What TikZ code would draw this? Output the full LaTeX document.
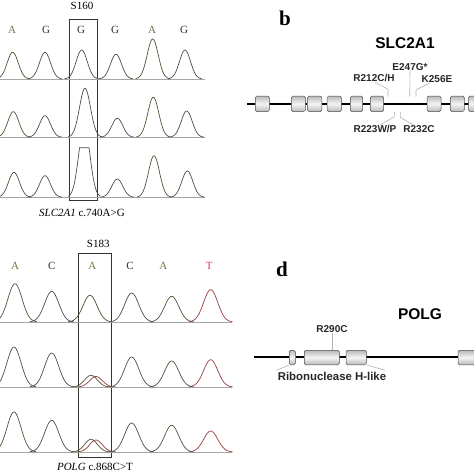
\documentclass[tikz,border=0pt]{standalone}
\usepackage{fontspec}
\setmainfont{Liberation Serif}
\setsansfont{Liberation Sans}
\usetikzlibrary{positioning}

\definecolor{baseA}{RGB}{115,118,60}
\definecolor{baseT}{RGB}{205,60,80}
\definecolor{baseGC}{RGB}{45,45,45}
\definecolor{trA}{RGB}{70,88,52}
\definecolor{trT}{RGB}{150,62,62}

% one chromatogram peak: [style]{centre}{baseline}{top}{width}
\newcommand{\trpeak}[5][]{%
  \draw[peakline,#1] plot[domain=-2.2*#5:2.2*#5, samples=41]
    ({#2+\x},{#3-(#3-#4)*exp(0-(\x/#5)*(\x/#5))});}

\begin{document}
\begin{tikzpicture}[x=1pt, y=-1pt,
    ntlet/.style={font=\fontsize{11}{13}\selectfont, text=baseGC, inner sep=0pt},
    serif/.style={font=\fontsize{11}{13}\selectfont, inner sep=0pt},
    panlab/.style={font=\fontsize{21}{24}\selectfont\bfseries, inner sep=0pt},
    gtitle/.style={font=\sffamily\bfseries\fontsize{15.5}{18}\selectfont, inner sep=0pt},
    mut/.style={font=\sffamily\bfseries\fontsize{10}{12}\selectfont, text=black!85, inner sep=0pt},
    peakline/.style={draw=baseGC!85, line width=0.7pt},
    axisline/.style={draw=gray!70, line width=0.6pt},
    frame/.style={draw=black!80, line width=0.8pt},
    gene/.style={draw=black, line width=1.5pt},
    exon/.style={draw=black!70, line width=0.5pt, rounded corners=1.5pt, top color=gray!55, bottom color=gray!55, middle color=gray!8, minimum height=15.5pt, inner sep=0pt},
    leader/.style={draw=gray!60, line width=0.6pt}
]
    \useasboundingbox (0,0) rectangle (474,474);

    % panel a: SLC2A1 chromatograms
    \node[ntlet, text=baseA] (sa1) at (12,30) {A};
    \node[ntlet] (sa2) at (46,30) {G};
    \node[ntlet] (sa3) at (81,30) {G};
    \node[ntlet] (sa4) at (115,30) {G};
    \node[ntlet, text=baseA] (sa5) at (152,30) {A};
    \node[ntlet] (sa6) at (184,30) {G};
    \node[serif] (s160) at (82,6) {S160};
    \draw[frame] (69.3,19.3) rectangle (97.3,200.7);

    \draw[axisline] (0,79) -- (205,79);
    \trpeak[draw=trA]{12.7}{79}{52.3}{7.8}
    \trpeak{45}{79}{52.3}{7.8}
    \trpeak{81.7}{79}{50}{7.8}
    \trpeak{116}{79}{54.3}{7.8}
    \trpeak[draw=trA]{152.7}{79}{39}{7.8}
    \trpeak{185}{79}{50}{7.8}

    \draw[axisline] (0,137.3) -- (205,137.3);
    \trpeak[draw=trA]{13.3}{137.3}{111.7}{7.8}
    \trpeak{45}{137.3}{115.7}{7.8}
    \trpeak{85}{137.3}{88.3}{7.8}
    \trpeak{117.3}{137.3}{118.3}{7.8}
    \trpeak[draw=trA]{153.3}{137.3}{97.3}{7.8}
    \trpeak{186.7}{137.3}{111}{7.8}

    \draw[axisline] (0,197.3) -- (205,197.3);
    \trpeak[draw=trA]{14}{197.3}{172.3}{7.8}
    \trpeak{45}{197.3}{175.7}{7.8}
    \draw[peakline] plot[domain=-16:16, samples=55] ({84.3+\x},{max(147.7,197.3-72*exp(0-(\x/7.8)*(\x/7.8)))});
    \trpeak{117.3}{197.3}{179}{7.8}
    \trpeak[draw=trA]{154}{197.3}{155.7}{7.8}
    \trpeak{187.3}{197.3}{171}{7.8}

    \node[serif] (capa) at (82,212.7) {\textit{SLC2A1} c.740A>G};

    % panel c: POLG chromatograms
    \node[ntlet, text=baseA] (pa1) at (15,266.3) {A};
    \node[ntlet] (pa2) at (51.7,266.3) {C};
    \node[ntlet, text=baseA] (pa3) at (92.3,266.3) {A};
    \node[ntlet] (pa4) at (130,266.3) {C};
    \node[ntlet, text=baseA] (pa5) at (163.3,266.3) {A};
    \node[ntlet, text=baseT] (pa6) at (209.3,266.3) {T};
    \node[serif] (s183) at (98.3,244.3) {S183};
    \draw[frame] (78,253) rectangle (111,457);

    \draw[axisline] (0,322) -- (231.7,322);
    \trpeak[draw=trA]{15}{322}{283.7}{10}
    \trpeak{51.7}{322}{291.3}{10}
    \trpeak[draw=trA]{90}{322}{295.3}{10}
    \trpeak{131.7}{322}{293}{10}
    \trpeak[draw=trA]{171.7}{322}{296.3}{10}
    \trpeak[draw=trT]{210.7}{322}{289.7}{10}

    \draw[axisline] (0,387) -- (231.7,387);
    \trpeak[draw=trA]{14}{387}{347}{10}
    \trpeak{51.7}{387}{353}{10}
    \trpeak[draw=trA]{91}{387}{375.3}{9}
    \trpeak[draw=trT]{96}{387}{376.5}{9}
    \trpeak{131.7}{387}{357}{10}
    \trpeak[draw=trA]{171.7}{387}{361}{10}
    \trpeak[draw=trT]{210.7}{387}{359.7}{10}

    \draw[axisline] (0,452) -- (231.7,452);
    \trpeak[draw=trA]{14}{452}{412}{10}
    \trpeak{51.7}{452}{420.3}{10}
    \trpeak[draw=trA]{91}{452}{439.3}{9}
    \trpeak[draw=trT]{96}{452}{440}{9}
    \trpeak{131.7}{452}{423}{10}
    \trpeak[draw=trA]{171.7}{452}{425.3}{10}
    \trpeak[draw=trT]{210.7}{452}{431}{10}

    \node[serif] (capc) at (95,467) {\textit{POLG} c.868C>T};

    % panel b: SLC2A1 gene
    \node[panlab] (labb) at (285,18) {b};
    \node[gtitle] (slc) at (405,43) {SLC2A1};
    \coordinate (bL) at (247,104);
    \coordinate (bR) at (474,104);
    \draw[gene] (bL) -- (bR);
    \foreach \xc/\w [count=\i] in {262.3/14, 298.3/14, 314.8/14.3, 334.2/14.3, 356.5/12.4, 377/13.4, 434/14, 457.3/14, 476/15}
        \node[exon, minimum width=\w] (eb\i) at (\xc,103.8) {};

    \node[mut] (m212) at (374,78) {R212C/H};
    \node[mut] (m247) at (410,67) {E247G*};
    \node[mut] (m256) at (437,79) {K256E};
    \node[mut] (m223) at (375,129) {R223W/P};
    \node[mut] (m232) at (419,129) {R232C};

    \coordinate (k212) at (388,89.3);
    \coordinate (g212) at (388,96.7);
    \coordinate (g247) at (409.7,96.7);
    \coordinate (g256) at (416,96.7);
    \coordinate (k256) at (416,90);
    \coordinate (g223) at (394.3,111.7);
    \coordinate (k223) at (394.3,116.7);
    \coordinate (g232) at (400.3,111.7);
    \coordinate (k232) at (400.3,117.3);
    \draw[leader] ([xshift=1pt]m212.south) -- (k212) -- (g212);
    \draw[leader] (m247.south) -- (g247);
    \draw[leader] (g256) -- (k256) -- ([xshift=-7pt]m256.south);
    \draw[leader] (g223) -- (k223) -- ([xshift=5pt]m223.north);
    \draw[leader] (g232) -- (k232) -- ([xshift=-5pt]m232.north);

    % panel d: POLG gene
    \node[panlab] (labd) at (282,269) {d};
    \node[gtitle] (polg) at (420,314) {POLG};
    \coordinate (dL) at (254,357);
    \coordinate (dR) at (474,357);
    \draw[gene] (dL) -- (dR);
    \foreach \xc/\w [count=\i] in {292.3/6, 321.8/35, 356.2/20.3, 469/22}
        \node[exon, minimum width=\w, minimum height=14.5pt] (ed\i) at (\xc,357.5) {};

    \node[mut] (m290) at (332,329) {R290C};
    \draw[leader] (m290.south) -- (ed2.north -| m290.south);
    \node[mut, font=\sffamily\bfseries\fontsize{11.4}{13}\selectfont] (rnh) at (332,376) {Ribonuclease H-like};
    \coordinate (rl) at (276.3,370.3);
    \coordinate (rr) at (385.3,370.3);
    \draw[leader] (ed1.south west) -- (rl);
    \draw[leader] (ed3.south east) -- (rr);
\end{tikzpicture}
\end{document}
